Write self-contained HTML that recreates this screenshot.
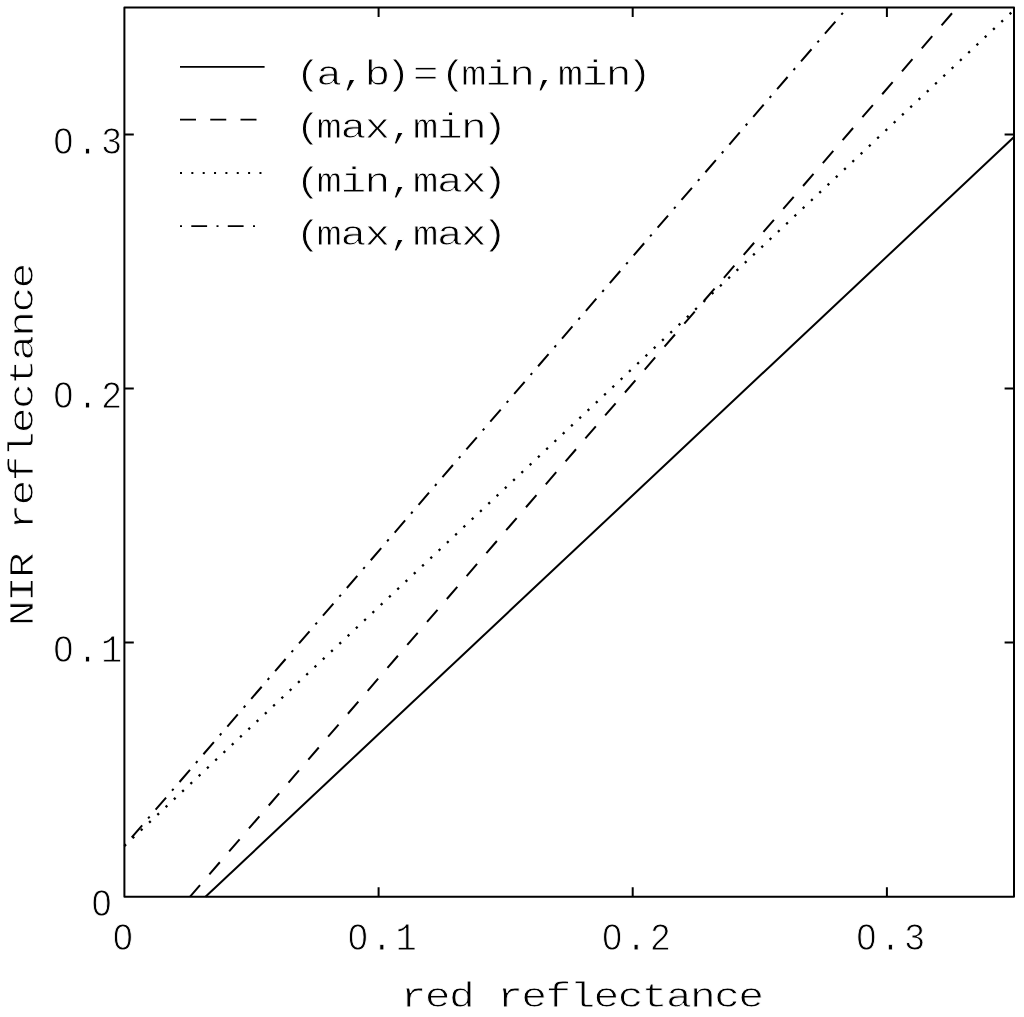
<!DOCTYPE html>
<html lang="en"><head><meta charset="utf-8"><title>NIR vs red reflectance</title>
<style>
html,body{margin:0;padding:0;background:#fff;}
body{width:1024px;height:1017px;overflow:hidden;}
svg{display:block;}
text{font-family:"Liberation Mono","DejaVu Sans Mono",monospace;font-size:40.2px;fill:#000;}
</style></head><body>
<svg width="1024" height="1017" viewBox="0 0 1024 1017">
<rect width="1024" height="1017" fill="#fff"/>

<g id="labels" stroke="#fff" stroke-width="0.9">
<text transform="translate(52.85,153.6) scale(0.88,0.97)" letter-spacing="3.289">0.3</text>
<text transform="translate(52.85,407.6) scale(0.88,0.97)" letter-spacing="3.289">0.2</text>
<text transform="translate(52.85,661.6) scale(0.88,0.97)" letter-spacing="3.289">0.1</text>
<text transform="translate(90.95,915.6) scale(0.88,0.97)" letter-spacing="3.289">0</text>
<text transform="translate(112.35,950.1) scale(0.88,0.97)" letter-spacing="3.289">0</text>
<text transform="translate(347.15,950.1) scale(0.88,0.97)" letter-spacing="3.289">0.1</text>
<text transform="translate(601.45,950.1) scale(0.88,0.97)" letter-spacing="3.289">0.2</text>
<text transform="translate(855.75,950.1) scale(0.88,0.97)" letter-spacing="3.289">0.3</text>
<text transform="translate(401.5,1006.5) translate(-0.84,0) scale(1.07,0.86)" letter-spacing="-1.578">red reflectance</text>
<text transform="translate(32.8,625.3) rotate(-90) translate(-0.84,0) scale(1.07,0.86)" letter-spacing="-1.578">NIR reflectance</text>
<text transform="translate(293,85.0) translate(-0.84,0) scale(1.07,0.86)" letter-spacing="-1.578" dx="3 -3 0 0 -3.5 3.5 3 -3 0 0 0 0 0 0 -3.5">(a,b)=(min,min)</text>
<text transform="translate(293,138.4) translate(-0.84,0) scale(1.07,0.86)" letter-spacing="-1.578" dx="3 -3 0 0 0 0 0 0 -3.5">(max,min)</text>
<text transform="translate(293,191.8) translate(-0.84,0) scale(1.07,0.86)" letter-spacing="-1.578" dx="3 -3 0 0 0 0 0 0 -3.5">(min,max)</text>
<text transform="translate(293,245.2) translate(-0.84,0) scale(1.07,0.86)" letter-spacing="-1.578" dx="3 -3 0 0 0 0 0 0 -3.5">(max,max)</text>
</g>
<g id="zero-mask" fill="#fff"><rect x="60.5" y="136.7" width="6" height="8"/><rect x="60.5" y="390.7" width="6" height="8"/><rect x="60.5" y="644.7" width="6" height="8"/><rect x="98.6" y="898.7" width="6" height="8"/><rect x="120.0" y="933.2" width="6" height="8"/><rect x="354.8" y="933.2" width="6" height="8"/><rect x="609.1" y="933.2" width="6" height="8"/><rect x="863.4" y="933.2" width="6" height="8"/></g>
<g id="curves" fill="none" stroke="#000" stroke-width="2">
<line x1="205.5" y1="896.7" x2="1014.0" y2="137.1"/>
<line x1="190.1" y1="896.7" x2="957.0" y2="7.5" stroke-dasharray="16 14.3" stroke-dashoffset="0.8"/>
<line x1="124.4" y1="845.9" x2="1014.0" y2="10.0" stroke-width="2.3" stroke-dasharray="2.3 9.054" stroke-dashoffset="0.2"/>
<line x1="124.4" y1="845.9" x2="847.5" y2="7.5" stroke-dasharray="2.4 9.1 16 9.1" stroke-dashoffset="0.3"/>
</g>
<g id="legend" fill="none" stroke="#000" stroke-width="1.8">
<line x1="180" y1="66.8" x2="264.6" y2="66.8"/>
<line x1="180" y1="119.65" x2="257" y2="119.65" stroke-dasharray="16 14.25"/>
<line x1="180" y1="172.9" x2="264" y2="172.9" stroke-width="2" stroke-dasharray="2 9.35"/>
<line x1="180" y1="226.1" x2="255.2" y2="226.1" stroke-dasharray="2 9.3 15.8 9.4"/>
</g>
<g id="axes" fill="none" stroke="#000" stroke-width="2" stroke-linejoin="round">
<rect x="124.4" y="7.5" width="889.6" height="889.2"/>
<path d="M378.6 896.7v-9.4M378.6 7.5v9.4M124.4 642.6h9.4M1014.0 642.6h-9.4M632.7 896.7v-9.4M632.7 7.5v9.4M124.4 388.6h9.4M1014.0 388.6h-9.4M886.9 896.7v-9.4M886.9 7.5v9.4M124.4 134.5h9.4M1014.0 134.5h-9.4"/>
</g>
</svg></body></html>
